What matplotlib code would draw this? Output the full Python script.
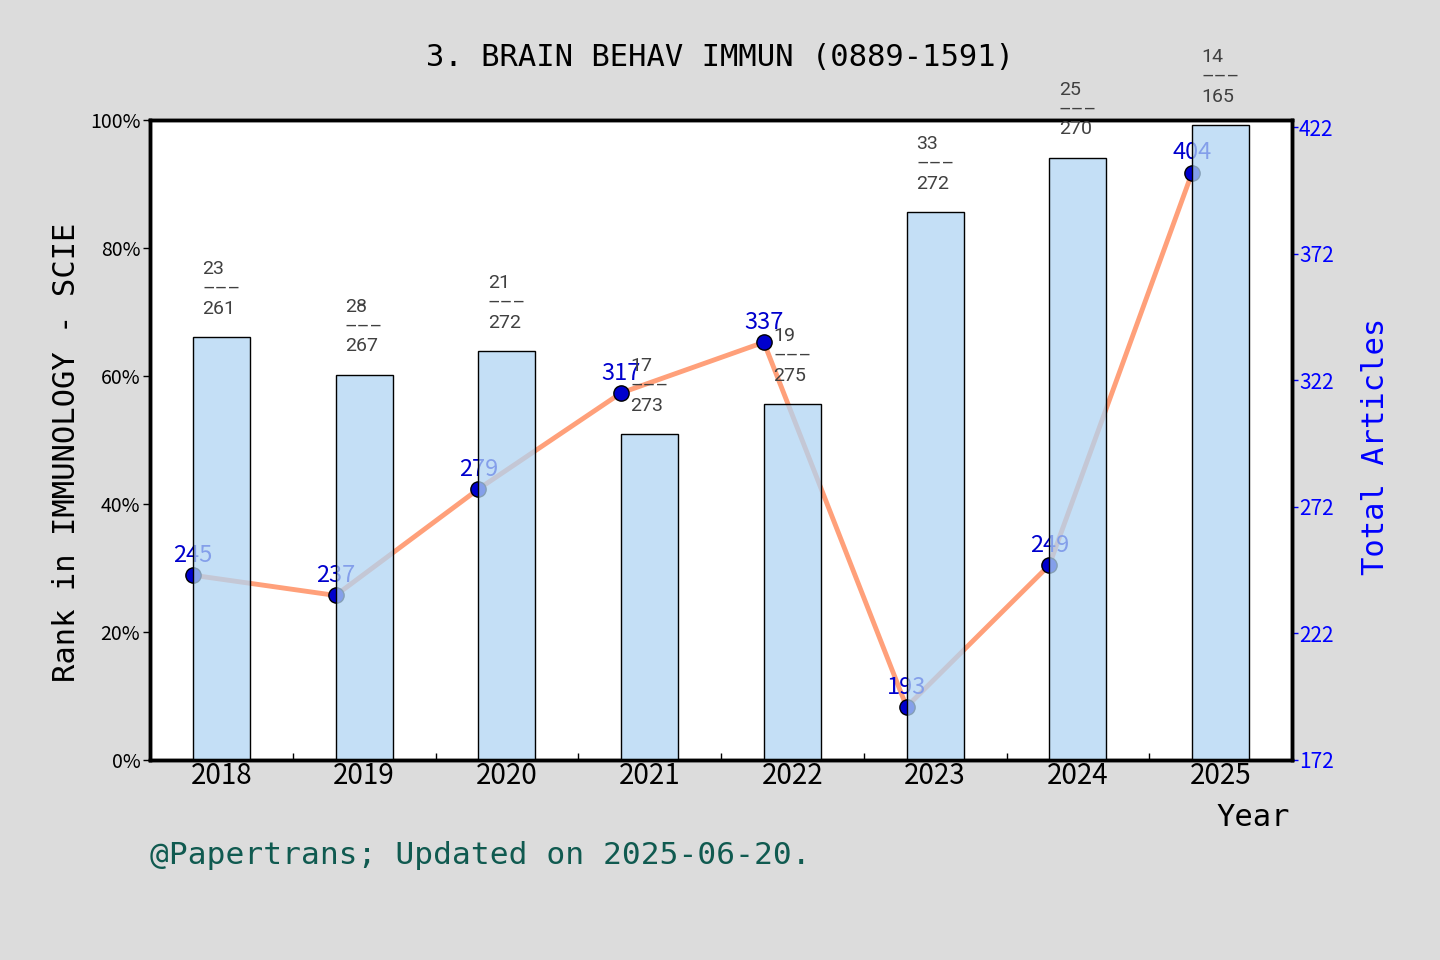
import matplotlib
matplotlib.use("Agg")
import matplotlib.pyplot as plt
import numpy as np

years = ["2018", "2019", "2020", "2021", "2022", "2023", "2024", "2025"]
rank_pct = [66.1, 60.2, 63.9, 50.9, 55.6, 85.6, 94.1, 99.2]
articles = [245, 237, 279, 317, 337, 193, 249, 404]
rank_num = [23, 28, 21, 17, 19, 33, 25, 14]
rank_tot = [261, 267, 272, 273, 275, 272, 270, 165]
right_ticks = [172, 222, 272, 322, 372, 422]
left_ticks = [0, 20, 40, 60, 80, 100]

title = "3. BRAIN BEHAV IMMUN (0889-1591)"
footer = "@Papertrans; Updated on 2025-06-20."

MONO = ["DejaVu Sans Mono"]
CJK = ["Noto Sans CJK SC", "DejaVu Sans"]

fig = plt.figure(figsize=(14.4, 9.6), dpi=100, facecolor="#dcdcdc")
rect = [150/1440, 1-760/960, (1292-150)/1440, 640/960]
ax = fig.add_axes(rect)
ax.set_facecolor("white")
x = np.arange(len(years))

# line (total articles) on the back axis, drawn underneath the bars
ax.plot(x - 0.2, articles, color="#ffa07a", lw=3.5, zorder=2)
ax.plot(x - 0.2, articles, 'o', ms=11, mfc="#0000cd", mec="black", mew=1.0, zorder=3)
for xi, v in zip(x, articles):
    ax.annotate(str(v), (xi - 0.2, v), xytext=(0, 6), textcoords="offset points",
                ha="center", va="bottom", color="#0000cd", fontsize=17,
                family=CJK, zorder=3)
ax.set_xlim(-0.5, 7.5)
ax.set_ylim(172, 424.8)
ax.yaxis.tick_right()
ax.set_yticks(right_ticks)
ax.set_yticklabels([str(t) for t in right_ticks], fontsize=15, family=CJK)
ax.tick_params(axis="y", colors="blue", direction="out", length=4, width=1, pad=1)
ax.set_xticks([])

# bars on a transparent front axis
ax2 = fig.add_axes(rect)
ax2.set_facecolor("none")
ax2.bar(x, rank_pct, width=0.4, color="#b1d5f4", alpha=0.75, edgecolor="none", zorder=2)
ax2.bar(x, rank_pct, width=0.4, facecolor="none", edgecolor="black", lw=1.0, zorder=3)
ax2.set_xlim(-0.5, 7.5)
ax2.set_ylim(0, 100)
ax2.set_yticks(left_ticks)
ax2.set_yticklabels([f"{t}%" for t in left_ticks], fontsize=14, family=CJK)
ax2.tick_params(axis="y", direction="out", length=5, width=1, pad=2)
ax2.set_xticks(x)
ax2.set_xticklabels(years, fontsize=20, family=CJK)
ax2.set_xticks(np.arange(0.5, 7.5, 1.0), minor=True)
ax2.tick_params(axis="x", which="major", length=0, pad=1)
ax2.tick_params(axis="x", which="minor", direction="in", length=5, width=1)

for xi, h, n, t in zip(x, rank_pct, rank_num, rank_tot):
    ax2.annotate(f"{n}\n\u2013\u2013\u2013\n{t}", (xi, h), xytext=(0, 14),
                 textcoords="offset points", ha="center", va="bottom",
                 multialignment="left", color="#404040", fontsize=14,
                 family=["Roboto", "DejaVu Sans"], linespacing=1.12,
                 zorder=4, annotation_clip=False)

for a in (ax, ax2):
    for s in a.spines.values():
        s.set_linewidth(2.5)
        s.set_color("black")

fig.text(0.5, 1-57/960, title, ha="center", va="center", fontsize=22, family=MONO)
fig.text(67/1440, 1-452/960, "Rank in IMMUNOLOGY - SCIE", rotation=90, ha="center",
         va="center", fontsize=22, family=MONO)
fig.text(1375/1440, 1-446/960, "Total Articles", rotation=90, ha="center",
         va="center", fontsize=22, family=MONO, color="blue")
fig.text(1290/1440, 1-817/960, "Year", ha="right", va="center", fontsize=22, family=MONO)
fig.text(150/1440, 1-855/960, footer, ha="left", va="center", fontsize=22.5,
         family=MONO, color="#105a50")

fig.savefig("out.png", dpi=100, facecolor=fig.get_facecolor())
